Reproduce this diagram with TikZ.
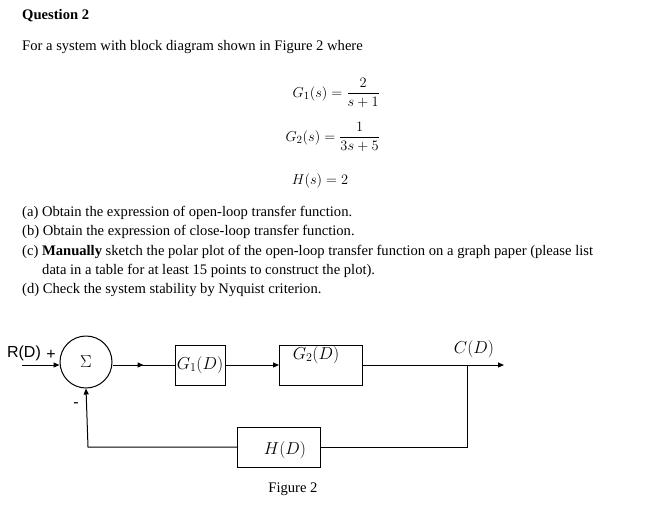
\documentclass[tikz,border=0pt]{standalone}
\usepackage{fontspec}
\setmainfont{Liberation Serif}
\newfontfamily\arialf{Liberation Sans}
\usetikzlibrary{arrows.meta,decorations.markings}
\begin{document}
\begin{tikzpicture}[x=1pt,y=-1pt,
  txt/.style={anchor=west,inner sep=0pt,font=\fontsize{14.6}{17}\selectfont},
  eq/.style={inner sep=0pt,font=\fontsize{15.5}{18}\selectfont},
  blk/.style={draw,line width=1pt,inner sep=0pt},
  wire/.style={line width=1pt},
  arr/.style={wire,-{Triangle[length=6pt,width=5pt]}},
  lab/.style={inner sep=0pt,font=\fontsize{18}{20}\selectfont},
  sans/.style={inner sep=0pt,font=\arialf\fontsize{16}{18}\selectfont}]
\useasboundingbox (0,0) rectangle (647,507);
\node[txt,font=\bfseries\fontsize{14.6}{17}\selectfont] (q) at (22,16) {Question 2};
\node[txt] (intro) at (22,47) {For a system with block diagram shown in Figure 2 where};
\node[eq,anchor=east] (e1) at (380,93) {$\displaystyle G_1(s)=\frac{2}{s+1}$};
\node[eq,anchor=east] (e2) at (380,137) {$\displaystyle G_2(s)=\frac{1}{3s+5}$};
\node[eq] (e3) at (320,181) {$H(s)=2$};
\node[txt] (la) at (22,213) {(a) Obtain the expression of open-loop transfer function.};
\node[txt] (lb) at (22,232) {(b) Obtain the expression of close-loop transfer function.};
\node[txt] (lc) at (22,252) {(c) \textbf{Manually} sketch the polar plot of the open-loop transfer function on a graph paper (please list};
\node[txt] (lc2) at (42,271) {data in a table for at least 15 points to construct the plot).};
\node[txt] (ld) at (22,290) {(d) Check the system stability by Nyquist criterion.};
% block diagram
\node[draw,circle,line width=1pt,minimum size=52pt,inner sep=0pt,font=\fontsize{17}{19}\selectfont] (sum) at (86,362) {$\Sigma$};
\node[blk,minimum width=50pt,minimum height=40pt] (g1) at (200,365) {};
\node[lab] (g1t) at (200,365) {$G_1(D)$};
\node[blk,minimum width=83pt,minimum height=40pt] (g2) at (321,365) {};
\node[lab] (g2t) at (316,355) {$G_2(D)$};
\node[blk,minimum width=83pt,minimum height=40pt] (h) at (279,447) {};
\node[lab] (ht) at (285,450) {$H(D)$};
\node[sans] (rl) at (24,353) {R(D)};
\node[sans] (pl) at (51,355) {+};
\node[sans] (mi) at (76,405) {-};
\node[lab] (cl) at (474,349) {$C(D)$};
\node[inner sep=0pt,font=\fontsize{14.6}{17}\selectfont] (fig) at (293,489) {Figure 2};
\coordinate (rin) at (22,365);
\coordinate (cout) at (504,365);
\coordinate (br) at (467,365);
\coordinate (fb1) at (467,447);
\coordinate (fb2) at (88,447);
\draw[arr] (rin) -- (sum.west|-rin);
\draw[wire,postaction={decorate},decoration={markings,mark=at position 0.5 with {\arrow{Triangle[length=6pt,width=5pt]}}}] (sum.east|-rin) -- (g1.west|-rin);
\draw[arr] (g1.east|-rin) -- (g2.west|-rin);
\draw[arr] (g2.east|-rin) -- (cout);
\draw[wire] (br) -- (fb1) -- (h.east|-fb1);
\draw[arr] (h.west|-fb1) -- (fb2) -- (sum.south);
\end{tikzpicture}
\end{document}
